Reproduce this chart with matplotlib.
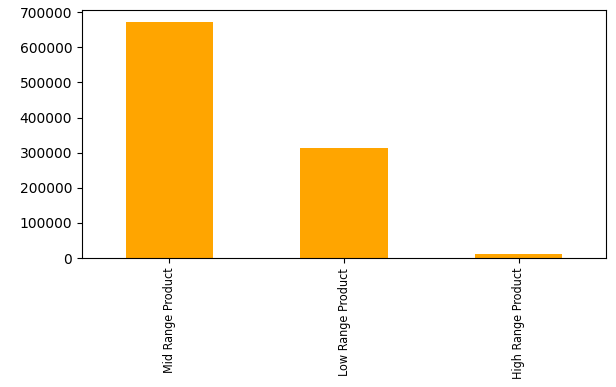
import matplotlib
matplotlib.use("Agg")
import matplotlib.pyplot as plt
import pandas as pd

categories = ["Mid Range Product", "Low Range Product", "High Range Product"]
counts = [672000, 312000, 13000]

s = pd.Series(counts, index=categories)

fig = plt.figure(figsize=(6.16, 3.87), dpi=100)
ax = fig.add_axes([0.133, 0.333, 0.851, 0.641])
s.plot(kind="bar", color="orange", ax=ax)

for lbl in ax.get_xticklabels():
    lbl.set_fontsize(9)
    lbl.set_fontstretch("condensed")
ax.tick_params(axis="y", labelsize=10)

fig.savefig("out.png", dpi=100)
